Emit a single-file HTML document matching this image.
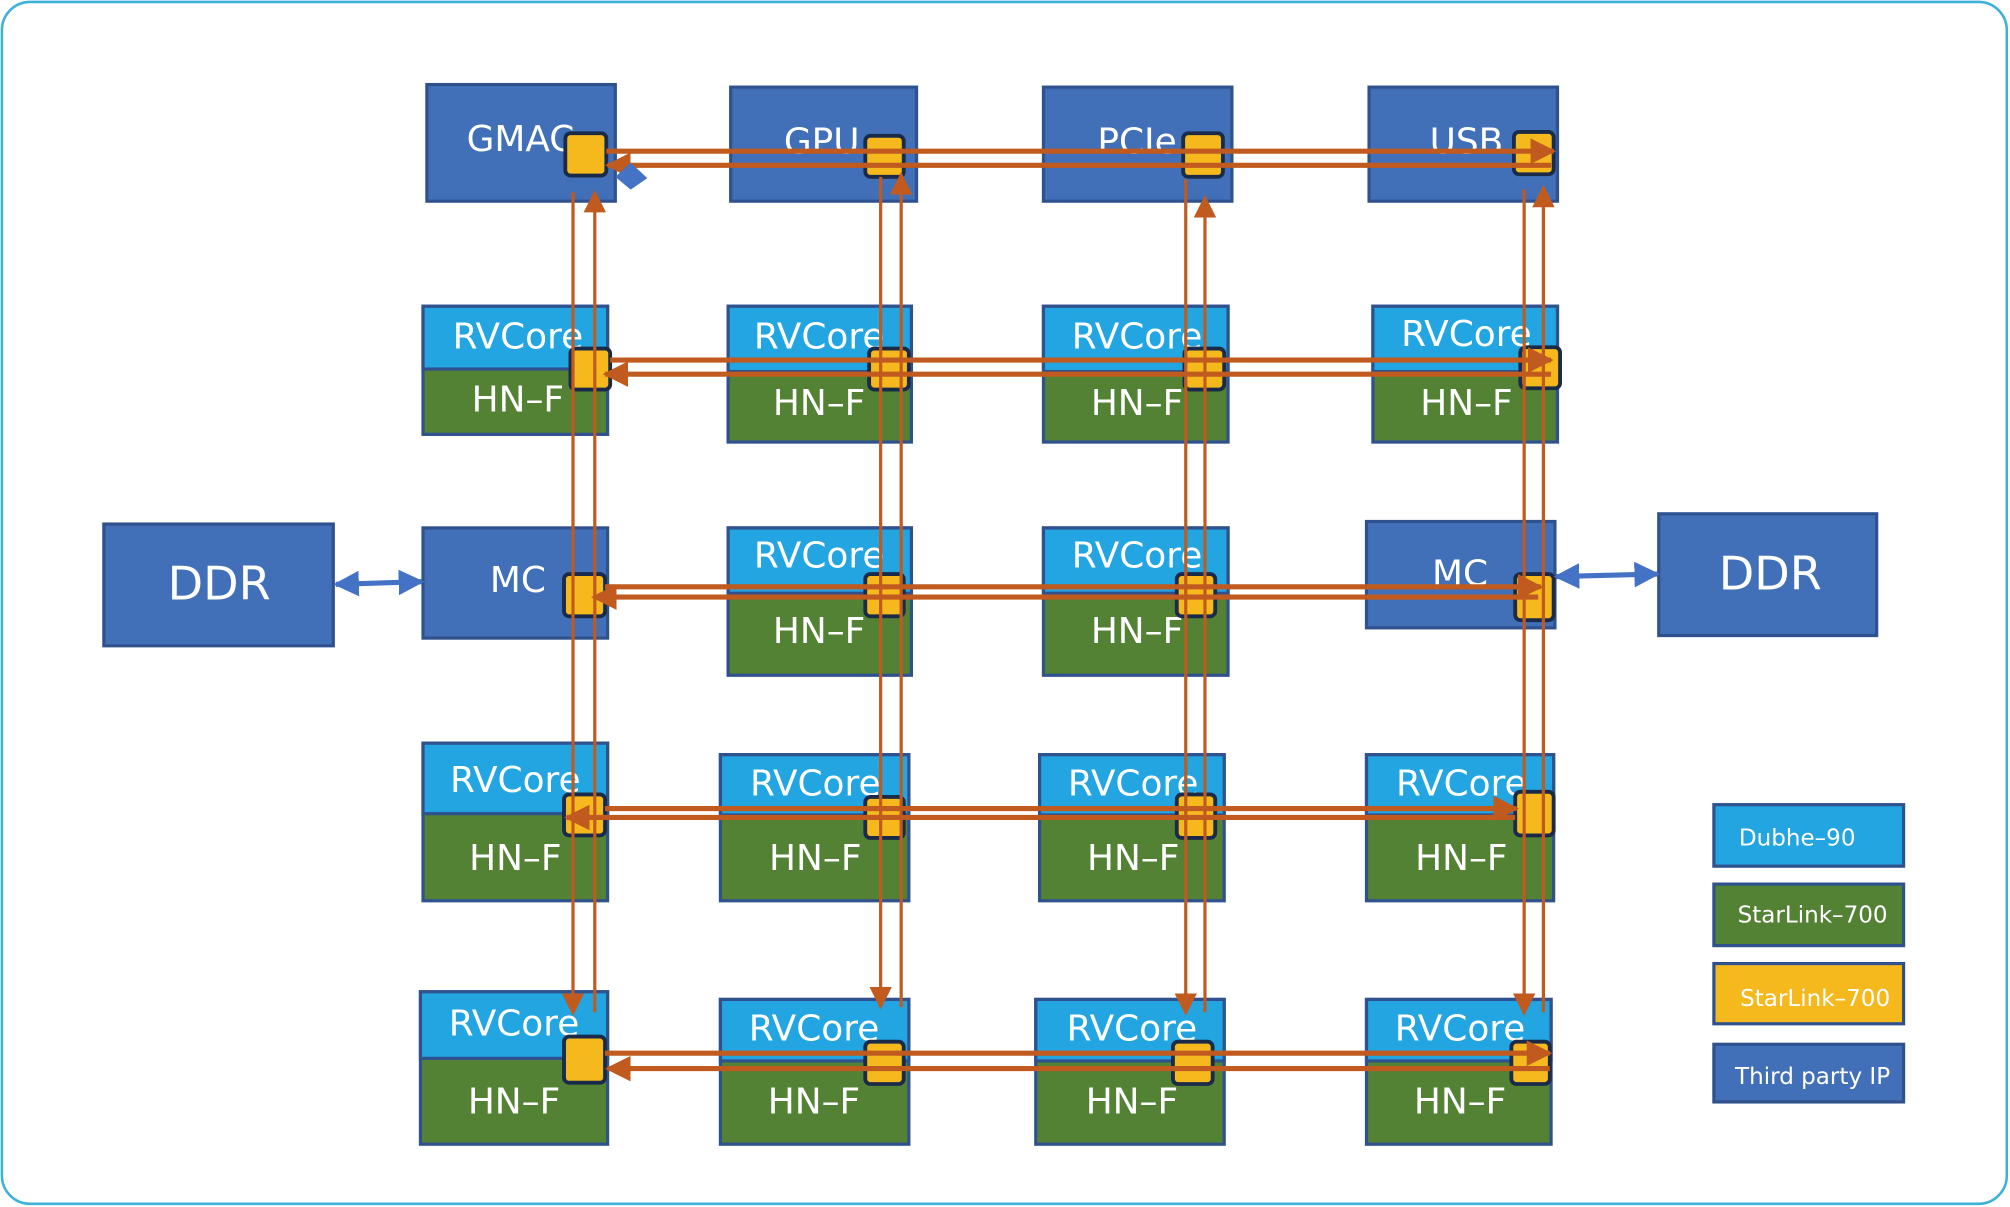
<!DOCTYPE html>
<html><head><meta charset="utf-8"><style>
html,body{margin:0;padding:0;background:#fff}
svg{display:block}
text{font-family:"DejaVu Sans","Liberation Sans",sans-serif;fill:#fff;text-anchor:middle}
</style></head><body>
<svg width="2010" height="1207" viewBox="0 0 1568 942" preserveAspectRatio="none" xmlns="http://www.w3.org/2000/svg">
<defs>
<marker id="ah" viewBox="0 0 10 10" refX="9" refY="5" markerWidth="5" markerHeight="5" markerUnits="strokeWidth" orient="auto"><path d="M0,0L10,5L0,10z" fill="#c05a1e"/></marker>
<marker id="av" viewBox="0 0 10 10" refX="9" refY="5" markerWidth="7" markerHeight="7" markerUnits="strokeWidth" orient="auto"><path d="M0,0L10,5L0,10z" fill="#c05a1e"/></marker>
<marker id="ab" viewBox="0 0 10 10" refX="9" refY="5" markerWidth="5" markerHeight="5" markerUnits="strokeWidth" orient="auto-start-reverse"><path d="M0,0L10,5L0,10z" fill="#4472c4"/></marker>
</defs>
<rect x="1.5" y="1.5" width="1564" height="938" rx="22" fill="#fff" stroke="#3fb0d8" stroke-width="2"/>
<g stroke="#2f528f" stroke-width="2.5" fill="#4270b8">
<rect x="333" y="66" width="147" height="91"/>
<rect x="570" y="68" width="145" height="89"/>
<rect x="814" y="68" width="147" height="89"/>
<rect x="1068" y="68" width="147" height="89"/>
<rect x="81" y="409" width="179" height="95"/>
<rect x="330" y="412" width="144" height="86"/>
<rect x="1066" y="407" width="147" height="83"/>
<rect x="1294" y="401" width="170" height="95"/>
</g>
<g font-size="28">
<text x="406" y="118">GMAC</text><text x="641" y="120">GPU</text><text x="887" y="120">PCIe</text><text x="1144" y="120">USB</text>
<text x="404" y="462">MC</text><text x="1139" y="457">MC</text>
</g>
<text x="171" y="468" font-size="36">DDR</text><text x="1381" y="460" font-size="36">DDR</text>
<g stroke="#2f528f" stroke-width="2.5">
<rect x="330" y="239" width="144" height="100" fill="#548235"/><rect x="330" y="239" width="144" height="49" fill="#22a5e0"/>
<rect x="568" y="239" width="143" height="106" fill="#548235"/><rect x="568" y="239" width="143" height="51" fill="#22a5e0"/>
<rect x="814" y="239" width="144" height="106" fill="#548235"/><rect x="814" y="239" width="144" height="51" fill="#22a5e0"/>
<rect x="1071" y="239" width="144" height="106" fill="#548235"/><rect x="1071" y="239" width="144" height="51" fill="#22a5e0"/>
<rect x="568" y="412" width="143" height="115" fill="#548235"/><rect x="568" y="412" width="143" height="51" fill="#22a5e0"/>
<rect x="814" y="412" width="144" height="115" fill="#548235"/><rect x="814" y="412" width="144" height="51" fill="#22a5e0"/>
<rect x="330" y="580" width="144" height="123" fill="#548235"/><rect x="330" y="580" width="144" height="55" fill="#22a5e0"/>
<rect x="562" y="589" width="147" height="114" fill="#548235"/><rect x="562" y="589" width="147" height="47" fill="#22a5e0"/>
<rect x="811" y="589" width="144" height="114" fill="#548235"/><rect x="811" y="589" width="144" height="47" fill="#22a5e0"/>
<rect x="1066" y="589" width="146" height="114" fill="#548235"/><rect x="1066" y="589" width="146" height="47" fill="#22a5e0"/>
<rect x="328" y="774" width="146" height="119" fill="#548235"/><rect x="328" y="774" width="146" height="52" fill="#22a5e0"/>
<rect x="562" y="780" width="147" height="113" fill="#548235"/><rect x="562" y="780" width="147" height="48" fill="#22a5e0"/>
<rect x="808" y="780" width="147" height="113" fill="#548235"/><rect x="808" y="780" width="147" height="48" fill="#22a5e0"/>
<rect x="1066" y="780" width="144" height="113" fill="#548235"/><rect x="1066" y="780" width="144" height="48" fill="#22a5e0"/>
</g>
<g font-size="28">
<text x="404" y="272">RVCore</text><text x="404" y="321">HN–F</text>
<text x="639" y="272">RVCore</text><text x="639" y="324">HN–F</text>
<text x="887" y="272">RVCore</text><text x="887" y="324">HN–F</text>
<text x="1144" y="270">RVCore</text><text x="1144" y="324">HN–F</text>
<text x="639" y="443">RVCore</text><text x="639" y="502">HN–F</text>
<text x="887" y="443">RVCore</text><text x="887" y="502">HN–F</text>
<text x="402" y="618">RVCore</text><text x="402" y="679">HN–F</text>
<text x="636" y="621">RVCore</text><text x="636" y="679">HN–F</text>
<text x="884" y="621">RVCore</text><text x="884" y="679">HN–F</text>
<text x="1140" y="621">RVCore</text><text x="1140" y="679">HN–F</text>
<text x="401" y="808">RVCore</text><text x="401" y="869">HN–F</text>
<text x="635" y="812">RVCore</text><text x="635" y="869">HN–F</text>
<text x="883" y="812">RVCore</text><text x="883" y="869">HN–F</text>
<text x="1139" y="812">RVCore</text><text x="1139" y="869">HN–F</text>
</g>
<g fill="#f5b91e" stroke="#1a2b4a" stroke-width="3">
<rect x="441" y="104" width="32" height="33" rx="4"/><rect x="675" y="106" width="30" height="32" rx="4"/><rect x="923" y="104" width="31" height="34" rx="4"/><rect x="1181" y="103" width="31" height="33" rx="4"/>
<rect x="445" y="272" width="31" height="32" rx="4"/><rect x="678" y="272" width="31" height="32" rx="4"/><rect x="924" y="272" width="31" height="32" rx="4"/><rect x="1186" y="271" width="31" height="32" rx="4"/>
<rect x="440" y="448" width="32" height="33" rx="4"/><rect x="675" y="448" width="30" height="33" rx="4"/><rect x="918" y="448" width="30" height="33" rx="4"/><rect x="1182" y="448" width="30" height="36" rx="4"/>
<rect x="440" y="620" width="32" height="32" rx="4"/><rect x="675" y="622" width="30" height="32" rx="4"/><rect x="918" y="620" width="30" height="34" rx="4"/><rect x="1182" y="618" width="30" height="34" rx="4"/>
<rect x="440" y="809" width="32" height="36" rx="4"/><rect x="675" y="813" width="30" height="33" rx="4"/><rect x="915" y="813" width="31" height="33" rx="4"/><rect x="1179" y="813" width="30" height="33" rx="4"/>
</g>
<g stroke="#c05a1e" stroke-width="4" fill="none">
<line x1="473" y1="118" x2="1212" y2="118" marker-end="url(#ah)"/>
<line x1="1210" y1="129" x2="474" y2="129" marker-end="url(#ah)"/>
<line x1="476" y1="281" x2="1210" y2="281" marker-end="url(#ah)"/>
<line x1="1210" y1="292" x2="472" y2="292" marker-end="url(#ah)"/>
<line x1="472" y1="458" x2="1202" y2="458" marker-end="url(#ah)"/>
<line x1="1200" y1="466" x2="463" y2="466" marker-end="url(#ah)"/>
<line x1="472" y1="631" x2="1183" y2="631" marker-end="url(#ah)"/>
<line x1="1182" y1="638" x2="442" y2="638" marker-end="url(#ah)"/>
<line x1="472" y1="822" x2="1209" y2="822" marker-end="url(#ah)"/>
<line x1="1209" y1="834" x2="474" y2="834" marker-end="url(#ah)"/>
</g>
<g stroke="#c05a1e" stroke-width="2.5" fill="none">
<line x1="447" y1="150" x2="447" y2="791" marker-end="url(#av)"/>
<line x1="464" y1="790" x2="464" y2="150" marker-end="url(#av)"/>
<line x1="687" y1="138" x2="687" y2="786" marker-end="url(#av)"/>
<line x1="703" y1="786" x2="703" y2="136" marker-end="url(#av)"/>
<line x1="925" y1="140" x2="925" y2="791" marker-end="url(#av)"/>
<line x1="940" y1="790" x2="940" y2="154" marker-end="url(#av)"/>
<line x1="1189" y1="148" x2="1189" y2="791" marker-end="url(#av)"/>
<line x1="1204" y1="790" x2="1204" y2="146" marker-end="url(#av)"/>
</g>
<g stroke="#4472c4" stroke-width="4">
<line x1="262" y1="456" x2="329" y2="454" marker-start="url(#ab)" marker-end="url(#ab)"/>
<line x1="1214" y1="450" x2="1293" y2="448" marker-start="url(#ab)" marker-end="url(#ab)"/>
</g>
<path d="M480,138 L492,127 L505,139 L492,148 Z" fill="#4472c4"/>
<g stroke="#2f528f" stroke-width="2.5">
<rect x="1337" y="628" width="148" height="48" fill="#22a5e0"/>
<rect x="1337" y="690" width="148" height="48" fill="#548235"/>
<rect x="1337" y="752" width="148" height="47" fill="#f5b91e"/>
<rect x="1337" y="815" width="148" height="45" fill="#4270b8"/>
</g>
<g font-size="18">
<text x="1402" y="660">Dubhe–90</text>
<text x="1414" y="720">StarLink–700</text>
<text x="1416" y="785">StarLink–700</text>
<text x="1414" y="846">Third party IP</text>
</g>
</svg>
</body></html>
